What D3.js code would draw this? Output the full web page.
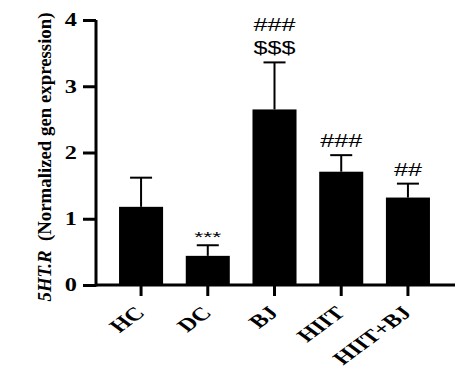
<!DOCTYPE html>
<html>
<head>
<meta charset="utf-8">
<script src="https://cdn.jsdelivr.net/npm/d3@7"></script>
<style>
  body { margin: 0; background: #fff; }
  svg text { fill: #000; }
</style>
</head>
<body>
<svg id="chart" width="474" height="374"></svg>
<script>
(function(){

    var groups = ["HC", "DC", "BJ", "HIIT", "HIIT+BJ"];
    var means = [1.18, 0.44, 2.65, 1.71, 1.32];
    var errTops = [1.62, 0.60, 3.36, 1.96, 1.53];
    var marks = [[], ["***"], ["###", "$$$"], ["###"], ["##"]];
    var yTicks = [0, 1, 2, 3, 4];

    var svg = d3.select("#chart");
    var serif = "'Liberation Serif', 'Times New Roman', Times, serif";
    var sans = "'Liberation Sans', Arial, sans-serif";

    var axisX0 = 96, axisX1 = 455;
    var stretch = 1.35;   // the source figure is a bit wider than tall

    var x = d3.scaleBand()
        .domain(groups)
        .range([107.7, 441.3])
        .paddingInner(0.34)
        .paddingOuter(0.17);

    var y = d3.scaleLinear().domain([0, 4]).range([285, 20]);

    var g = svg.append("g");

    // bars
    g.selectAll(".bar")
        .data(groups)
        .enter()
        .append("rect")
        .attr("class", "bar")
        .attr("x", function (d) { return x(d); })
        .attr("width", x.bandwidth())
        .attr("y", function (d, i) { return y(means[i]); })
        .attr("height", function (d, i) { return y(0) - y(means[i]); })
        .attr("fill", "#000");

    // error bars (upper only)
    var err = g.selectAll(".err")
        .data(groups)
        .enter()
        .append("g")
        .attr("class", "err")
        .attr("stroke", "#000")
        .attr("stroke-width", 2);

    err.append("line")
        .attr("x1", function (d) { return x(d) + x.bandwidth() / 2; })
        .attr("x2", function (d) { return x(d) + x.bandwidth() / 2; })
        .attr("y1", function (d, i) { return y(means[i]); })
        .attr("y2", function (d, i) { return y(errTops[i]); });

    err.append("line")
        .attr("x1", function (d) { return x(d) + x.bandwidth() / 4; })
        .attr("x2", function (d) { return x(d) + x.bandwidth() * 3 / 4; })
        .attr("y1", function (d, i) { return y(errTops[i]); })
        .attr("y2", function (d, i) { return y(errTops[i]); });

    // significance marks
    groups.forEach(function (d, i) {
        var lines = marks[i];
        lines.forEach(function (m, j) {
            var base = y(errTops[i]) - 8 - (lines.length - 1 - j) * 23;
            var isStar = m.charAt(0) === "*";
            g.append("text")
                .attr("x", x(d) + x.bandwidth() / 2)
                .attr("y", isStar ? base + 5 : base)
                .attr("text-anchor", "middle")
                .attr("font-family", sans)
                .attr("font-size", isStar ? 14 : 18)
                .attr("textLength", m.length * (isStar ? 9 : 14))
                .attr("lengthAdjust", "spacingAndGlyphs")
                .text(m);
        });
    });

    // y axis
    var yAxis = g.append("g")
        .attr("transform", "translate(" + axisX0 + ",0)")
        .call(d3.axisLeft(y).tickValues(yTicks).tickFormat(d3.format("d")).tickSize(13).tickPadding(5));
    yAxis.select(".domain").attr("stroke-width", 3).attr("d", "M0," + y(4) + "V" + (y(0) + 1.5));
    yAxis.selectAll(".tick line").attr("stroke-width", 3);
    yAxis.selectAll(".tick text")
        .attr("x", 0)
        .attr("transform", "translate(-19,0) scale(" + stretch + ",1)")
        .attr("font-family", serif)
        .attr("font-weight", "bold")
        .attr("font-size", 18);

    // x axis
    var xAxis = g.append("g")
        .attr("transform", "translate(0," + y(0) + ")")
        .call(d3.axisBottom(x).tickSize(11).tickPadding(4));
    xAxis.select(".domain").attr("stroke-width", 3).attr("d", "M" + axisX0 + ",0H" + axisX1);
    xAxis.selectAll(".tick line").attr("stroke-width", 3);
    xAxis.selectAll(".tick text")
        .attr("font-family", serif)
        .attr("font-weight", "bold")
        .attr("font-size", 18.5)
        .attr("text-anchor", "end")
        .attr("x", 0)
        .attr("y", 0)
        .attr("dy", 0)
        .attr("transform", "translate(5,29) scale(" + stretch + ",1) rotate(-45)");

    // y axis title
    var title = svg.append("text")
        .attr("transform", "translate(51,157) rotate(-90)")
        .attr("text-anchor", "middle")
        .attr("font-family", serif)
        .attr("font-weight", "bold")
        .attr("font-size", 18)
        .attr("textLength", 289)
        .attr("lengthAdjust", "spacingAndGlyphs");
    title.append("tspan").attr("font-style", "italic").text("5HT.R");
    title.append("tspan").text("\u00a0 (Normalized gen expression)");

})();
</script>
</body>
</html>
